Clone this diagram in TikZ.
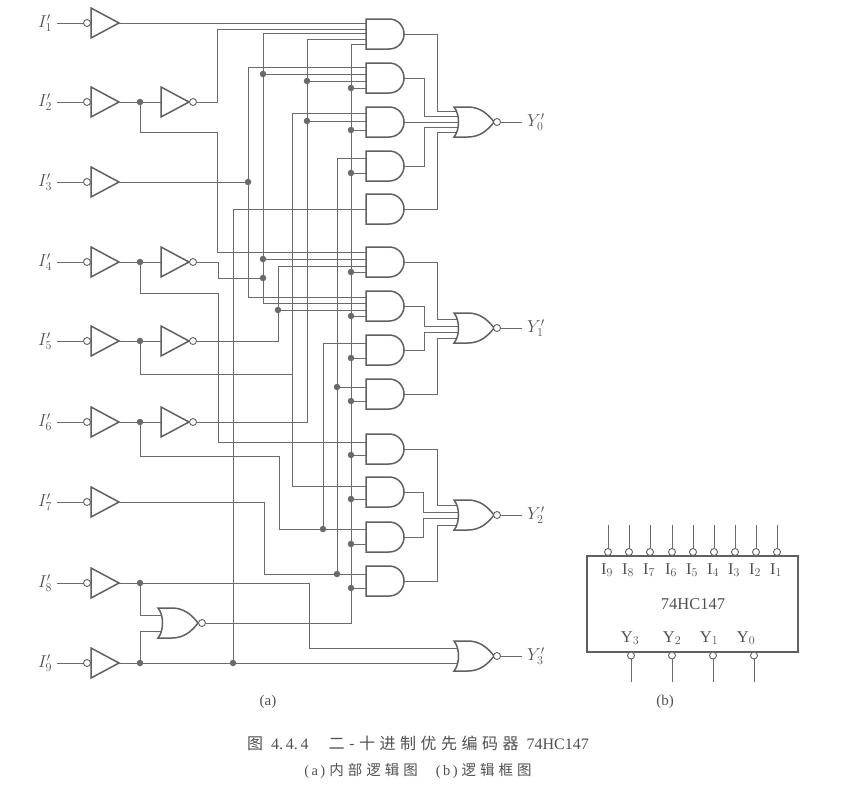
\documentclass[tikz,border=0pt]{standalone}
\usepackage{fontspec}
\setmainfont{Liberation Serif}
\newfontfamily\cjk{Noto Sans CJK SC}
\definecolor{wirec}{HTML}{6A6A6A}
\definecolor{gatec}{HTML}{606060}
\definecolor{textc}{HTML}{505050}
\tikzset{
 wire/.style={draw=wirec,line width=1pt,line join=miter},
 gateline/.style={draw=gatec,line width=1.5pt,fill=white,line join=miter},
 gbox/.style={inner sep=0pt,minimum width=38pt,minimum height=30pt},
 bub/.style={circle,draw=gatec,line width=0.9pt,fill=white,inner sep=0pt,minimum size=7pt},
 jdot/.style={circle,fill=wirec,inner sep=0pt,minimum size=6.5pt},
 lab/.style={text=textc,inner sep=0pt,font=\fontsize{16.5}{18}\selectfont},
 boxlab/.style={text=textc,inner sep=0pt,font=\fontsize{16.5}{18}\selectfont},
 captext/.style={text=textc,inner sep=0pt},
}
\newcommand{\gapa}{\hspace{4.5pt}}
\newcommand{\gapb}{\hspace{4pt}}
\newcommand{\andgate}[3]{%
 \node[gbox] (#1) at (#2,#3) {};
 \begin{scope}[shift={(#2,#3)}]
 \draw[gateline] (-19,-15) -- (4,-15) .. controls (13,-15) and (19,-8) .. (19,0) .. controls (19,8) and (13,15) .. (4,15) -- (-19,15) -- cycle;
 \end{scope}}
\newcommand{\orgate}[3]{%
 \node[gbox] (#1) at (#2,#3) {};
 \begin{scope}[shift={(#2,#3)}]
 \draw[gateline] (-20,-15) -- (-6,-15) .. controls (6,-15) and (14,-8) .. (20,0) .. controls (14,8) and (6,15) .. (-6,15) -- (-20,15) .. controls (-14,8) and (-14,-8) .. (-20,-15) -- cycle;
 \end{scope}}
\newcommand{\trigate}[3]{%
 \node[gbox,minimum width=28pt] (#1) at (#2,#3) {};
 \begin{scope}[shift={(#2,#3)}]
 \draw[gateline] (-14,-15) -- (14,0) -- (-14,15) -- cycle;
 \end{scope}}
\newcommand{\inbuf}[2]{%
 \node[lab] (L#1) at (45,#2) {$I_{#1}'$};
 \coordinate (S#1) at (57,#2);
 \trigate{B#1}{105}{#2}
 \node[bub] (Bb#1) at (87,#2) {};
 \draw[wire] (S#1) -- (Bb#1.west);}
\newcommand{\invgate}[2]{%
 \trigate{N#1}{175}{#2}
 \node[bub] (Nb#1) at (193,#2) {};}
\begin{document}
\begin{tikzpicture}[x=1pt,y=-1pt]
\useasboundingbox (0,0) rectangle (842,790);
% pins
\foreach \n/\x/\y in {a1a/366/23,a1b/366/29,a1c/366/33,a1d/366/39,a1e/366/44,
 a2a/366/67,a2b/366/74,a2c/366/81,a2d/366/88,
 a3a/366/113,a3b/366/121,a3c/366/130,
 a4a/366/158,a4b/366/173,a5a/366/209,
 a6a/366/252,a6b/366/259,a6c/366/266,a6d/366/272,
 a7a/366/297,a7b/366/303,a7c/366/310,a7d/366/316,
 a8a/366/343,a8b/366/358,a9a/366/387,a9b/366/401,
 a10a/366/442,a10b/366/455,a11a/366/486,a11b/366/499,
 a12a/366/529,a12b/366/544,a13a/366/574,a13b/366/588,
 p0a/457/111,p0b/459/116,p0c/460/122,p0d/459/127,p0e/457/132,
 p1a/457/319,p1b/459/326,p1c/459/332,p1d/457/338,
 p2a/457/505,p2b/459/512,p2c/459/518,p2d/457/525,
 p3a/457/648,p3b/457/663,
 q8/162/615,q9/162/631,
 t0/522/122,t1/522/328,t2/522/515,t3/522/656}
 {\coordinate (\n) at (\x,\y);}
% junction dots
\foreach \n/\x/\y in {j2/140/102,j4/140/262,j5/140/341,j6/140/422,j8/140/583,j9/140/663,
 j248/248/182,j263a/263/74,j263b/263/259,j263c/263/278,
 j278/278/310,j307a/307/81,j307b/307/121,j323/323/529,
 j337a/337/387,j337b/337/574,j233/233/663,
 d2/351/88,d3/351/130,d4/351/173,d6/351/272,d7/351/316,d8/351/358,d9/351/401,
 d10/351/455,d11/351/499,d12/351/544,d13/351/588}
 {\node[jdot] (\n) at (\x,\y) {};}
% input stage
\inbuf{1}{23}\inbuf{2}{102}\inbuf{3}{182}\inbuf{4}{262}\inbuf{5}{341}
\inbuf{6}{422}\inbuf{7}{502}\inbuf{8}{583}\inbuf{9}{663}
\invgate{2}{102}\invgate{4}{262}\invgate{5}{341}\invgate{6}{422}
\orgate{NR}{178}{623}
\node[bub] (NRb) at (202,623) {};
% AND gates
\andgate{A1}{385}{34}\andgate{A2}{385}{78}\andgate{A3}{385}{122}\andgate{A4}{385}{166}\andgate{A5}{385}{209}
\andgate{A6}{385}{262}\andgate{A7}{385}{306}\andgate{A8}{385}{350}\andgate{A9}{385}{394}
\andgate{A10}{385}{449}\andgate{A11}{385}{492}\andgate{A12}{385}{537}\andgate{A13}{385}{581}
% wires: buffer outputs and inverter feeds
\draw[wire] (B1.east) -- (a1a);
\foreach \i/\j in {2/j2,4/j4,5/j5,6/j6}{
 \draw[wire] (B\i.east) -- (\j) -- (N\i.west);
}
\draw[wire] (B8.east) -- (j8);
\draw[wire] (B9.east) -- (j9);
\draw[wire] (B3.east) -- (j248);
% I2
\draw[wire] (Nb2.east) -- (217,102) |- (a1b);
\draw[wire] (j2) |- (217,132) |- (a6a);
% I3 bus
\draw[wire] (a2a) -- (248,67) |- (a7a);
% I4
\draw[wire] (Nb4.east) -- (218,262) |- (j263c);
\draw[wire] (j4) |- (218,293) |- (a10a);
\draw[wire] (a1c) -- (263,33) |- (a7b);
\draw[wire] (j263a) -- (a2b);
\draw[wire] (j263b) -- (a6b);
% I5
\draw[wire] (Nb5.east) -- (278,341) |- (a6c);
\draw[wire] (j278) -- (a7c);
\draw[wire] (j5) |- (292,374);
\draw[wire] (a3a) -- (292,113) |- (a11a);
% I6
\draw[wire] (Nb6.east) -- (307,422) |- (a1d);
\draw[wire] (j307a) -- (a2c);
\draw[wire] (j307b) -- (a3b);
\draw[wire] (j6) |- (279,456) |- (a12a);
\draw[wire] (a8a) -- (323,343) -- (j323);
% I7
\draw[wire] (B7.east) -- (264,502) |- (a13a);
\draw[wire] (a4a) -- (337,158) -- (j337b);
\draw[wire] (j337a) -- (a9a);
% I8, I9
\draw[wire] (j8) -- (309,583) |- (p3a);
\draw[wire] (j8) |- (q8);
\draw[wire] (j9) |- (q9);
\draw[wire] (j9) -- (p3b);
\draw[wire] (a5a) -- (233,209) -- (j233);
% NOR output bus
\draw[wire] (NRb.east) -- (351,623) |- (a1e);
\foreach \d/\p in {d2/a2d,d3/a3c,d4/a4b,d6/a6d,d7/a7d,d8/a8b,d9/a9b,d10/a10b,d11/a11b,d12/a12b,d13/a13b}{
 \draw[wire] (\d) -- (\p);
}
% AND outputs
\draw[wire] (A1.east) -- (437,34) |- (p0a);
\draw[wire] (A2.east) -- (424,78) |- (p0b);
\draw[wire] (A3.east) -- (p0c);
\draw[wire] (A4.east) -- (424,166) |- (p0d);
\draw[wire] (A5.east) -- (437,209) |- (p0e);
\draw[wire] (A6.east) -- (437,262) |- (p1a);
\draw[wire] (A7.east) -- (424,306) |- (p1b);
\draw[wire] (A8.east) -- (424,350) |- (p1c);
\draw[wire] (A9.east) -- (437,394) |- (p1d);
\draw[wire] (A10.east) -- (437,449) |- (p2a);
\draw[wire] (A11.east) -- (423,492) |- (p2b);
\draw[wire] (A12.east) -- (423,537) |- (p2c);
\draw[wire] (A13.east) -- (437,581) |- (p2d);
% output NOR gates
\foreach \i/\y in {0/122,1/328,2/515,3/656}{
 \orgate{O\i}{474}{\y}
 \node[bub] (Ob\i) at (497,\y) {};
 \draw[wire] (Ob\i.east) -- (t\i);
 \node[lab,anchor=west] (Y\i) at (527,\y) {$Y_{\i}'$};
}
% part (b)
\node[draw=gatec,line width=1.6pt,minimum width=211pt,minimum height=96pt,inner sep=0pt] (chip) at (692.5,604) {};
\node[text=textc,inner sep=0pt,font=\fontsize{16.5}{18}\selectfont] (chipname) at (693,604) {74HC147};
\foreach \n/\x in {9/608,8/629,7/650,6/672,5/693,4/714,3/735,2/756,1/777}{
 \node[bub] (ti\n) at (\x,552) {};
 \coordinate (te\n) at (\x,525);
 \draw[wire] (te\n) -- (ti\n);
 \node[boxlab] (tl\n) at (\x-1,570) {$\mathrm{I}_{\n}$};
}
\foreach \n/\x/\lx in {3/631/630,2/672/672,1/713/709,0/754/746}{
 \node[bub] (bo\n) at (\x,655.5) {};
 \coordinate (be\n) at (\x,682);
 \draw[wire] (bo\n) -- (be\n);
 \node[boxlab] (bl\n) at (\lx,638) {$\mathrm{Y}_{\n}$};
}
% captions
\node[captext,font=\fontsize{15}{17}\selectfont] (la) at (268,702) {(a)};
\node[captext,font=\fontsize{15}{17}\selectfont] (lb) at (665,702) {(b)};
\node[captext,font=\fontsize{16}{18}\selectfont] (c1) at (418,743) {{\cjk 图}\gapb{}\ 4.\,4.\,4\quad\ {\cjk 二\gapa{}-\gapa{}十\gapa{}进\gapa{}制\gapa{}优\gapa{}先\gapa{}编\gapa{}码\gapa{}器}\gapb{}\ 74HC147};
\node[captext,font=\fontsize{14.5}{16}\selectfont] (c2) at (418,771) {(\,a\,)\gapb{}{\cjk 内\gapb{}部\gapb{}逻\gapb{}辑\gapb{}图}\quad\ (\,b\,)\gapb{}{\cjk 逻\gapb{}辑\gapb{}框\gapb{}图}};
\end{tikzpicture}
\end{document}
